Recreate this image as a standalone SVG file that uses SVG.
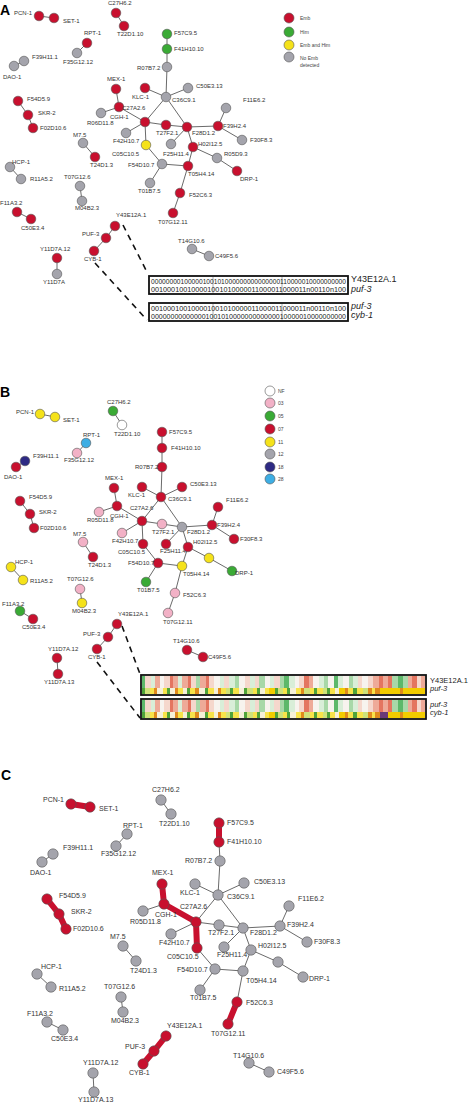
<svg xmlns="http://www.w3.org/2000/svg" xmlns:xlink="http://www.w3.org/1999/xlink" width="474" height="1102" viewBox="0 0 474 1102">
<style>
text{font-family:"Liberation Sans",Arial,sans-serif;font-size:6px;fill:#333}
.C text{font-size:7px}
circle{stroke:#555;stroke-width:.6}
.r{fill:#c8102e}.g{fill:#3aaa35}.y{fill:#f5e21a}.k{fill:#a4a4ac}.p{fill:#f2b1c6}.v{fill:#2e2a84}.b{fill:#3eaee4}.w{fill:#fff}
.e{fill:none;stroke:#444;stroke-width:.8}
.th{fill:none;stroke:#c8102e;stroke-width:6;stroke-linecap:round;stroke-linejoin:round}
.d{fill:none;stroke:#111;stroke-width:1.6;stroke-dasharray:6 5}
.bx{fill:none;stroke:#111;stroke-width:1.8}
.vl{stroke:#777;stroke-width:.6}
.lg text{font-size:5px;fill:#444}
text.pl{font-weight:bold;font-size:14px;fill:#000}
text.hl{font-size:9px;fill:#222}
text.hb{font-size:7.5px;fill:#222}
.it{font-style:italic}
text.bt{font-size:6.5px;fill:#222}
</style>
<defs>
<g id="u1">
<rect x="142" y="676" width="3" height="12" fill="#5db86a"/><rect x="145" y="676" width="6" height="12" fill="#f5d7cc"/><rect x="151" y="676" width="4" height="12" fill="#d9eed8"/><rect x="155" y="676" width="5" height="12" fill="#eeaa98"/><rect x="160" y="676" width="4" height="12" fill="#f7f3ee"/><rect x="164" y="676" width="6" height="12" fill="#f5d7cc"/><rect x="170" y="676" width="3" height="12" fill="#e47560"/><rect x="173" y="676" width="5" height="12" fill="#eeaa98"/><rect x="178" y="676" width="4" height="12" fill="#d9eed8"/><rect x="182" y="676" width="6" height="12" fill="#eeaa98"/><rect x="188" y="676" width="3" height="12" fill="#e47560"/><rect x="191" y="676" width="5" height="12" fill="#f5d7cc"/><rect x="196" y="676" width="4" height="12" fill="#a8d8a8"/><rect x="200" y="676" width="6" height="12" fill="#eeaa98"/><rect x="206" y="676" width="3" height="12" fill="#e47560"/><rect x="209" y="676" width="5" height="12" fill="#f5d7cc"/><rect x="214" y="676" width="6" height="12" fill="#f7f3ee"/><rect x="220" y="676" width="4" height="12" fill="#d9eed8"/><rect x="224" y="676" width="5" height="12" fill="#f5d7cc"/><rect x="229" y="676" width="6" height="12" fill="#d9eed8"/><rect x="235" y="676" width="4" height="12" fill="#a8d8a8"/><rect x="239" y="676" width="6" height="12" fill="#f7f3ee"/><rect x="245" y="676" width="5" height="12" fill="#f5d7cc"/><rect x="250" y="676" width="5" height="12" fill="#d9eed8"/><rect x="255" y="676" width="4" height="12" fill="#f5d7cc"/><rect x="259" y="676" width="6" height="12" fill="#a8d8a8"/><rect x="265" y="676" width="5" height="12" fill="#f7f3ee"/><rect x="270" y="676" width="4" height="12" fill="#d9eed8"/><rect x="274" y="676" width="6" height="12" fill="#f5d7cc"/><rect x="280" y="676" width="4" height="12" fill="#a8d8a8"/><rect x="284" y="676" width="5" height="12" fill="#5db86a"/><rect x="289" y="676" width="6" height="12" fill="#d9eed8"/><rect x="295" y="676" width="4" height="12" fill="#f7f3ee"/><rect x="299" y="676" width="5" height="12" fill="#f5d7cc"/><rect x="304" y="676" width="5" height="12" fill="#e47560"/><rect x="309" y="676" width="4" height="12" fill="#eeaa98"/><rect x="313" y="676" width="6" height="12" fill="#f7f3ee"/><rect x="319" y="676" width="5" height="12" fill="#d9eed8"/><rect x="324" y="676" width="4" height="12" fill="#a8d8a8"/><rect x="328" y="676" width="6" height="12" fill="#f7f3ee"/><rect x="334" y="676" width="4" height="12" fill="#5db86a"/><rect x="338" y="676" width="5" height="12" fill="#d9eed8"/><rect x="343" y="676" width="6" height="12" fill="#f7f3ee"/><rect x="349" y="676" width="4" height="12" fill="#a8d8a8"/><rect x="353" y="676" width="5" height="12" fill="#d9eed8"/><rect x="358" y="676" width="4" height="12" fill="#f5d7cc"/><rect x="362" y="676" width="6" height="12" fill="#f7f3ee"/><rect x="368" y="676" width="5" height="12" fill="#f5d7cc"/><rect x="373" y="676" width="6" height="12" fill="#eeaa98"/><rect x="379" y="676" width="4" height="12" fill="#e47560"/><rect x="383" y="676" width="5" height="12" fill="#eeaa98"/><rect x="388" y="676" width="4" height="12" fill="#e47560"/><rect x="392" y="676" width="6" height="12" fill="#a8d8a8"/><rect x="398" y="676" width="5" height="12" fill="#5db86a"/><rect x="403" y="676" width="5" height="12" fill="#a8d8a8"/><rect x="408" y="676" width="4" height="12" fill="#eeaa98"/><rect x="412" y="676" width="5" height="12" fill="#e47560"/><rect x="417" y="676" width="4" height="12" fill="#f5d7cc"/><rect x="421" y="676" width="4" height="12" fill="#eeaa98"/>
</g>
<g id="l1">
<rect x="142" y="688" width="3" height="6" fill="#4fa33a"/><rect x="145" y="688" width="5" height="6" fill="#cfe27a"/><rect x="150" y="688" width="4" height="6" fill="#f7e34a"/><rect x="154" y="688" width="3" height="6" fill="#e08a1c"/><rect x="157" y="688" width="6" height="6" fill="#f5f0d8"/><rect x="163" y="688" width="4" height="6" fill="#f7e34a"/><rect x="167" y="688" width="3" height="6" fill="#4fa33a"/><rect x="170" y="688" width="5" height="6" fill="#f5f0d8"/><rect x="175" y="688" width="3" height="6" fill="#e08a1c"/><rect x="178" y="688" width="5" height="6" fill="#f7e34a"/><rect x="183" y="688" width="4" height="6" fill="#f5f0d8"/><rect x="187" y="688" width="3" height="6" fill="#4fa33a"/><rect x="190" y="688" width="5" height="6" fill="#f7e34a"/><rect x="195" y="688" width="4" height="6" fill="#e08a1c"/><rect x="199" y="688" width="6" height="6" fill="#f5f0d8"/><rect x="205" y="688" width="3" height="6" fill="#4fa33a"/><rect x="208" y="688" width="6" height="6" fill="#f7e34a"/><rect x="214" y="688" width="4" height="6" fill="#f5f0d8"/><rect x="218" y="688" width="3" height="6" fill="#e08a1c"/><rect x="221" y="688" width="5" height="6" fill="#f7e34a"/><rect x="226" y="688" width="4" height="6" fill="#cfe27a"/><rect x="230" y="688" width="3" height="6" fill="#4fa33a"/><rect x="233" y="688" width="6" height="6" fill="#f7e34a"/><rect x="239" y="688" width="5" height="6" fill="#f5f0d8"/><rect x="244" y="688" width="3" height="6" fill="#4fa33a"/><rect x="247" y="688" width="6" height="6" fill="#cfe27a"/><rect x="253" y="688" width="4" height="6" fill="#f7e34a"/><rect x="257" y="688" width="3" height="6" fill="#4fa33a"/><rect x="260" y="688" width="5" height="6" fill="#f5f0d8"/><rect x="265" y="688" width="4" height="6" fill="#f7e34a"/><rect x="269" y="688" width="6" height="6" fill="#f2cc00"/><rect x="275" y="688" width="3" height="6" fill="#4fa33a"/><rect x="278" y="688" width="5" height="6" fill="#cfe27a"/><rect x="283" y="688" width="4" height="6" fill="#f7e34a"/><rect x="287" y="688" width="3" height="6" fill="#4fa33a"/><rect x="290" y="688" width="6" height="6" fill="#f5f0d8"/><rect x="296" y="688" width="5" height="6" fill="#f7e34a"/><rect x="301" y="688" width="3" height="6" fill="#e08a1c"/><rect x="304" y="688" width="6" height="6" fill="#cfe27a"/><rect x="310" y="688" width="4" height="6" fill="#f7e34a"/><rect x="314" y="688" width="3" height="6" fill="#4fa33a"/><rect x="317" y="688" width="6" height="6" fill="#f7e34a"/><rect x="323" y="688" width="4" height="6" fill="#cfe27a"/><rect x="327" y="688" width="3" height="6" fill="#4fa33a"/><rect x="330" y="688" width="5" height="6" fill="#f7e34a"/><rect x="335" y="688" width="4" height="6" fill="#f5f0d8"/><rect x="339" y="688" width="6" height="6" fill="#f2cc00"/><rect x="345" y="688" width="3" height="6" fill="#e08a1c"/><rect x="348" y="688" width="5" height="6" fill="#f7e34a"/><rect x="353" y="688" width="4" height="6" fill="#4fa33a"/><rect x="357" y="688" width="6" height="6" fill="#f7e34a"/><rect x="363" y="688" width="5" height="6" fill="#cfe27a"/><rect x="368" y="688" width="4" height="6" fill="#e08a1c"/><rect x="372" y="688" width="3" height="6" fill="#f7e34a"/><rect x="375" y="688" width="5" height="6" fill="#e08a1c"/><rect x="380" y="688" width="20" height="6" fill="#f2cc00"/><rect x="400" y="688" width="3" height="6" fill="#e08a1c"/><rect x="403" y="688" width="22" height="6" fill="#f2cc00"/>
</g>
</defs>

<g id="connectors">
<path class="e" d="M39 16L54 18M116 13L124 26M87 43L77 53M24 61L14 66M167 34L167 49L167 67L166 97M166 97L188 88M166 97L145 88M166 97L145 122M166 97L187 127M116 89L119 107M119 107L101 113M119 107L145 122M145 122L166 125L187 127M145 122L126 133M145 122L146 145L162 164L188 166M162 164L150 183M187 127L171 144M187 127L193 147L188 166M193 147L217 158L237 171M187 127L218 126M218 126L226 108M218 126L242 140M188 166L180 193L173 213M83 143L95 157M18 101L28 115L33 128M10 167L21 179M80 186L82 201M17 212L31 219M115 226L106 238L94 251M57 258L57 274M192 249L209 256"/>
<path class="e" d="M40 414L55 417M113 411L122 425M86 443L77 453M25 461L16 467M162 432L162 448L162 467L161 497M161 497L182 487M161 497L142 487M161 497L142 521M161 497L182 527M114 488L117 506M117 506L99 512M117 506L142 521M142 521L162 524L182 527M142 521L122 533M142 521L143 544L158 563L182 566M158 563L146 582M182 527L166 544M182 527L188 547L182 566M188 547L209 558L232 571M182 527L212 525M212 525L218 507M212 525L234 539M182 566L175 593L168 613M83 542L93 557M20 501L30 514L34 528M11 567L23 580M80 589L82 603M20 611L33 619M117 624L108 637L97 649M57 658L58 674M187 650L203 657"/>
<path class="e" d="M161 800L171 814M127 834L116 846M53 854L42 862M219 842L220 861L218 895M218 895L195 884M218 895L244 883M218 895L196 922M218 895L243 928M164 904L143 911M196 922L219 925L243 928M196 922L171 934M197 948L215 969M215 969L200 990M215 969L243 971M243 928L224 947M243 928L251 950L243 971M251 950L278 962L303 977M243 928L280 926M280 926L289 906M280 926L307 942M243 971L237 1002M123 946L136 961M37 974L51 987M121 997L123 1012M47 1022L63 1030M93 1073L94 1092M249 1063L269 1072"/>
<path class="th" d="M71 804L90 807M219 823L219 842M47 899L59 914L66 929M162 884L164 904L196 922L197 948M237 1002L228 1024M166 1036L154 1051L143 1064"/>
<path class="d" d="M123 225L148 274M95 263L147 320M122 626L140 674M97 662L140 718"/>
</g>

<text class="pl" x="0" y="15">A</text>
<text class="pl" x="0" y="397">B</text>
<text class="pl" x="1" y="780">C</text>

<g id="legend-a" class="lg">
<circle class="r" cx="289" cy="18" r="5"/><text x="300" y="20">Emb</text>
<circle class="g" cx="289" cy="32" r="5"/><text x="300" y="34">Him</text>
<circle class="y" cx="289" cy="45" r="5"/><text x="300" y="47">Emb and Him</text>
<circle class="k" cx="289" cy="57" r="5"/><text x="300" y="60">No Emb</text><text x="300" y="67">detected</text>
</g>

<g id="panel-a">
<g id="a-pcn-1"><circle class="r" cx="39" cy="16" r="4.8"/><text x="14" y="15">PCN-1</text></g>
<g id="a-set-1"><circle class="r" cx="54" cy="18" r="4.8"/><text x="63" y="23">SET-1</text></g>
<g id="a-c27h6-2"><circle class="r" cx="116" cy="13" r="4.8"/><text x="108" y="5">C27H6.2</text></g>
<g id="a-t22d1-10"><circle class="r" cx="124" cy="26" r="4.8"/><text x="117" y="36">T22D1.10</text></g>
<g id="a-rpt-1"><circle class="r" cx="87" cy="43" r="4.8"/><text x="84" y="35">RPT-1</text></g>
<g id="a-f35g12-12"><circle class="k" cx="77" cy="53" r="4.8"/><text x="63" y="64">F35G12.12</text></g>
<g id="a-f39h11-1"><circle class="k" cx="24" cy="61" r="4.8"/><text x="32" y="59">F39H11.1</text></g>
<g id="a-dao-1"><circle class="k" cx="14" cy="66" r="4.8"/><text x="3" y="79">DAO-1</text></g>
<g id="a-f57c9-5"><circle class="g" cx="167" cy="34" r="4.8"/><text x="174" y="35">F57C9.5</text></g>
<g id="a-f41h10-10"><circle class="g" cx="167" cy="49" r="4.8"/><text x="174" y="51">F41H10.10</text></g>
<g id="a-r07b7-2"><circle class="k" cx="167" cy="67" r="4.8"/><text x="137" y="70">R07B7.2</text></g>
<g id="a-c36c9-1"><circle class="k" cx="166" cy="97" r="4.8"/><text x="172" y="102">C36C9.1</text></g>
<g id="a-c50e3-13"><circle class="k" cx="188" cy="88" r="4.8"/><text x="196" y="88">C50E3.13</text></g>
<g id="a-klc-1"><circle class="r" cx="145" cy="88" r="4.8"/><text x="132" y="99">KLC-1</text></g>
<g id="a-mex-1"><circle class="r" cx="116" cy="89" r="4.8"/><text x="107" y="81">MEX-1</text></g>
<g id="a-cgh-1"><circle class="r" cx="119" cy="107" r="4.8"/><text x="110" y="119">CGH-1</text></g>
<g id="a-r06d11-8"><circle class="k" cx="101" cy="113" r="4.8"/><text x="87" y="125">R06D11.8</text></g>
<g id="a-c27a2-6"><circle class="r" cx="145" cy="122" r="4.8"/><text x="122" y="110">C27A2.6</text></g>
<g id="a-t27f2-1"><circle class="r" cx="166" cy="125" r="4.8"/><text x="156" y="135">T27F2.1</text></g>
<g id="a-f28d1-2"><circle class="r" cx="187" cy="127" r="4.8"/><text x="192" y="135">F28D1.2</text></g>
<g id="a-f39h2-4"><circle class="r" cx="218" cy="126" r="4.8"/><text x="223" y="128">F39H2.4</text></g>
<g id="a-f11e6-2"><circle class="k" cx="226" cy="108" r="4.8"/><text x="243" y="102">F11E6.2</text></g>
<g id="a-f30f8-3"><circle class="k" cx="242" cy="140" r="4.8"/><text x="250" y="142">F30F8.3</text></g>
<g id="a-h02i12-5"><circle class="r" cx="193" cy="147" r="4.8"/><text x="198" y="146">H02I12.5</text></g>
<g id="a-r05d9-3"><circle class="k" cx="217" cy="158" r="4.8"/><text x="224" y="156">R05D9.3</text></g>
<g id="a-drp-1"><circle class="r" cx="237" cy="171" r="4.8"/><text x="240" y="181">DRP-1</text></g>
<g id="a-f25h11-4"><circle class="k" cx="171" cy="144" r="4.8"/><text x="163" y="156">F25H11.4</text></g>
<g id="a-f42h10-7"><circle class="k" cx="126" cy="133" r="4.8"/><text x="113" y="143">F42H10.7</text></g>
<g id="a-c05c10-5"><circle class="y" cx="146" cy="145" r="4.8"/><text x="112" y="156">C05C10.5</text></g>
<g id="a-f54d10-7"><circle class="k" cx="162" cy="164" r="4.8"/><text x="128" y="167">F54D10.7</text></g>
<g id="a-t05h4-14"><circle class="r" cx="188" cy="166" r="4.8"/><text x="188" y="176">T05H4.14</text></g>
<g id="a-t01b7-5"><circle class="k" cx="150" cy="183" r="4.8"/><text x="138" y="193">T01B7.5</text></g>
<g id="a-f52c6-3"><circle class="r" cx="180" cy="193" r="4.8"/><text x="189" y="197">F52C6.3</text></g>
<g id="a-t07g12-11"><circle class="r" cx="173" cy="213" r="4.8"/><text x="158" y="224">T07G12.11</text></g>
<g id="a-m7-5"><circle class="k" cx="83" cy="143" r="4.8"/><text x="73" y="137">M7.5</text></g>
<g id="a-t24d1-3"><circle class="r" cx="95" cy="157" r="4.8"/><text x="90" y="167">T24D1.3</text></g>
<g id="a-f54d5-9"><circle class="r" cx="18" cy="101" r="4.8"/><text x="27" y="101">F54D5.9</text></g>
<g id="a-skr-2"><circle class="r" cx="28" cy="115" r="4.8"/><text x="38" y="115">SKR-2</text></g>
<g id="a-f02d10-6"><circle class="r" cx="33" cy="128" r="4.8"/><text x="40" y="130">F02D10.6</text></g>
<g id="a-hcp-1"><circle class="k" cx="10" cy="167" r="4.8"/><text x="12" y="164">HCP-1</text></g>
<g id="a-r11a5-2"><circle class="k" cx="21" cy="179" r="4.8"/><text x="30" y="181">R11A5.2</text></g>
<g id="a-t07g12-6"><circle class="k" cx="80" cy="186" r="4.8"/><text x="64" y="179">T07G12.6</text></g>
<g id="a-m04b2-3"><circle class="k" cx="82" cy="201" r="4.8"/><text x="75" y="210">M04B2.3</text></g>
<g id="a-f11a3-2"><circle class="r" cx="17" cy="212" r="4.8"/><text x="0" y="205">F11A3.2</text></g>
<g id="a-c50e3-4"><circle class="r" cx="31" cy="219" r="4.8"/><text x="21" y="230">C50E3.4</text></g>
<g id="a-y43e12a-1"><circle class="r" cx="115" cy="226" r="4.8"/><text x="116" y="217">Y43E12A.1</text></g>
<g id="a-puf-3"><circle class="r" cx="106" cy="238" r="4.8"/><text x="82" y="236">PUF-3</text></g>
<g id="a-cyb-1"><circle class="r" cx="94" cy="251" r="4.8"/><text x="84" y="261">CYB-1</text></g>
<g id="a-y11d7a-12"><circle class="r" cx="57" cy="258" r="4.8"/><text x="40" y="251">Y11D7A.12</text></g>
<g id="a-y11d7a-13"><circle class="k" cx="57" cy="274" r="4.8"/><text x="43" y="284">Y11D7A</text></g>
<g id="a-t14g10-6"><circle class="k" cx="192" cy="249" r="4.8"/><text x="178" y="243">T14G10.6</text></g>
<g id="a-c49f5-6"><circle class="k" cx="209" cy="256" r="4.8"/><text x="215" y="258">C49F5.6</text></g>
</g>

<g id="panel-a-alignment">
<rect class="bx" x="149" y="276" width="199" height="18"/>
<line class="vl" x1="213" y1="277" x2="213" y2="293"/><line class="vl" x1="282" y1="277" x2="282" y2="293"/>
<text class="bt" x="151" y="284" textLength="195" lengthAdjust="spacingAndGlyphs">00000000100000100101000000000000000110000010000000000</text>
<text class="bt" x="151" y="292" textLength="195" lengthAdjust="spacingAndGlyphs">001000100100001001010000011000011000011n00110n100</text>
<rect class="bx" x="149" y="303" width="199" height="18"/>
<line class="vl" x1="213" y1="304" x2="213" y2="320"/><line class="vl" x1="282" y1="304" x2="282" y2="320"/>
<text class="bt" x="151" y="311" textLength="195" lengthAdjust="spacingAndGlyphs">001000100100001001010000011000011000011n00110n100</text>
<text class="bt" x="151" y="319" textLength="195" lengthAdjust="spacingAndGlyphs">00000000000000100101000000000000010000010000000000</text>
<text class="hl" x="351" y="282">Y43E12A.1</text>
<text class="hl it" x="351" y="292">puf-3</text>
<text class="hl it" x="351" y="309">puf-3</text>
<text class="hl it" x="351" y="318">cyb-1</text>
</g>

<g id="legend-b" class="lg">
<circle class="w" cx="270" cy="391" r="5"/><text x="278" y="393">NF</text>
<circle class="p" cx="270" cy="403" r="5"/><text x="278" y="405">03</text>
<circle class="g" cx="270" cy="416" r="5"/><text x="278" y="418">05</text>
<circle class="r" cx="270" cy="429" r="5"/><text x="278" y="431">07</text>
<circle class="y" cx="270" cy="442" r="5"/><text x="278" y="444">11</text>
<circle class="k" cx="270" cy="454" r="5"/><text x="278" y="456">12</text>
<circle class="v" cx="270" cy="467" r="5"/><text x="278" y="469">18</text>
<circle class="b" cx="270" cy="479" r="5"/><text x="278" y="481">28</text>
</g>

<g id="panel-b">
<g id="b-pcn-1"><circle class="y" cx="40" cy="414" r="4.8"/><text x="16" y="414">PCN-1</text></g>
<g id="b-set-1"><circle class="y" cx="55" cy="417" r="4.8"/><text x="63" y="422">SET-1</text></g>
<g id="b-c27h6-2"><circle class="g" cx="113" cy="411" r="4.8"/><text x="107" y="404">C27H6.2</text></g>
<g id="b-t22d1-10"><circle class="w" cx="122" cy="425" r="4.8"/><text x="114" y="436">T22D1.10</text></g>
<g id="b-rpt-1"><circle class="b" cx="86" cy="443" r="4.8"/><text x="83" y="437">RPT-1</text></g>
<g id="b-f35g12-12"><circle class="p" cx="77" cy="453" r="4.8"/><text x="64" y="462">F35G12.12</text></g>
<g id="b-f39h11-1"><circle class="v" cx="25" cy="461" r="4.8"/><text x="33" y="458">F39H11.1</text></g>
<g id="b-dao-1"><circle class="r" cx="16" cy="467" r="4.8"/><text x="4" y="479">DAO-1</text></g>
<g id="b-f57c9-5"><circle class="r" cx="162" cy="432" r="4.8"/><text x="169" y="434">F57C9.5</text></g>
<g id="b-f41h10-10"><circle class="r" cx="162" cy="448" r="4.8"/><text x="171" y="450">F41H10.10</text></g>
<g id="b-r07b7-2"><circle class="r" cx="162" cy="467" r="4.8"/><text x="135" y="469">R07B7.2</text></g>
<g id="b-c36c9-1"><circle class="r" cx="161" cy="497" r="4.8"/><text x="168" y="501">C36C9.1</text></g>
<g id="b-c50e3-13"><circle class="r" cx="182" cy="487" r="4.8"/><text x="190" y="486">C50E3.13</text></g>
<g id="b-klc-1"><circle class="r" cx="142" cy="487" r="4.8"/><text x="128" y="497">KLC-1</text></g>
<g id="b-mex-1"><circle class="r" cx="114" cy="488" r="4.8"/><text x="105" y="480">MEX-1</text></g>
<g id="b-cgh-1"><circle class="r" cx="117" cy="506" r="4.8"/><text x="110" y="518">CGH-1</text></g>
<g id="b-r05d11-8"><circle class="p" cx="99" cy="512" r="4.8"/><text x="87" y="522">R05D11.8</text></g>
<g id="b-c27a2-6"><circle class="r" cx="142" cy="521" r="4.8"/><text x="130" y="510">C27A2.6</text></g>
<g id="b-t27f2-1"><circle class="p" cx="162" cy="524" r="4.8"/><text x="152" y="534">T27F2.1</text></g>
<g id="b-f28d1-2"><circle class="k" cx="182" cy="527" r="4.8"/><text x="187" y="534">F28D1.2</text></g>
<g id="b-f39h2-4"><circle class="r" cx="212" cy="525" r="4.8"/><text x="217" y="527">F39H2.4</text></g>
<g id="b-f11e6-2"><circle class="r" cx="218" cy="507" r="4.8"/><text x="226" y="502">F11E6.2</text></g>
<g id="b-f30f8-3"><circle class="r" cx="234" cy="539" r="4.8"/><text x="240" y="541">F30F8.3</text></g>
<g id="b-f42h10-7"><circle class="p" cx="122" cy="533" r="4.8"/><text x="112" y="543">F42H10.7</text></g>
<g id="b-c05c10-5"><circle class="r" cx="143" cy="544" r="4.8"/><text x="118" y="554">C05C10.5</text></g>
<g id="b-f25h11-4"><circle class="r" cx="166" cy="544" r="4.8"/><text x="160" y="553">F25H11.4</text></g>
<g id="b-h02i12-5"><circle class="r" cx="188" cy="547" r="4.8"/><text x="193" y="544">H02I12.5</text></g>
<g id="b-r05d9-3"><circle class="y" cx="209" cy="558" r="4.8"/></g>
<g id="b-drp-1"><circle class="g" cx="232" cy="571" r="4.8"/><text x="235" y="575">DRP-1</text></g>
<g id="b-f54d10-7"><circle class="r" cx="158" cy="563" r="4.8"/><text x="128" y="565">F54D10.7</text></g>
<g id="b-t05h4-14"><circle class="y" cx="182" cy="566" r="4.8"/><text x="183" y="576">T05H4.14</text></g>
<g id="b-t01b7-5"><circle class="g" cx="146" cy="582" r="4.8"/><text x="137" y="592">T01B7.5</text></g>
<g id="b-f52c6-3"><circle class="p" cx="175" cy="593" r="4.8"/><text x="183" y="597">F52C6.3</text></g>
<g id="b-t07g12-11"><circle class="p" cx="168" cy="613" r="4.8"/><text x="163" y="624">T07G12.11</text></g>
<g id="b-m7-5"><circle class="p" cx="83" cy="542" r="4.8"/><text x="73" y="536">M7.5</text></g>
<g id="b-t24d1-3"><circle class="r" cx="93" cy="557" r="4.8"/><text x="88" y="567">T24D1.3</text></g>
<g id="b-f54d5-9"><circle class="r" cx="20" cy="501" r="4.8"/><text x="29" y="499">F54D5.9</text></g>
<g id="b-skr-2"><circle class="r" cx="30" cy="514" r="4.8"/><text x="39" y="514">SKR-2</text></g>
<g id="b-f02d10-6"><circle class="r" cx="34" cy="528" r="4.8"/><text x="40" y="530">F02D10.6</text></g>
<g id="b-hcp-1"><circle class="y" cx="11" cy="567" r="4.8"/><text x="15" y="564">HCP-1</text></g>
<g id="b-r11a5-2"><circle class="y" cx="23" cy="580" r="4.8"/><text x="30" y="583">R11A5.2</text></g>
<g id="b-t07g12-6"><circle class="p" cx="80" cy="589" r="4.8"/><text x="67" y="581">T07G12.6</text></g>
<g id="b-m04b2-3"><circle class="y" cx="82" cy="603" r="4.8"/><text x="72" y="613">M04B2.3</text></g>
<g id="b-f11a3-2"><circle class="g" cx="20" cy="611" r="4.8"/><text x="2" y="606">F11A3.2</text></g>
<g id="b-c50e3-4"><circle class="r" cx="33" cy="619" r="4.8"/><text x="22" y="629">C50E3.4</text></g>
<g id="b-y43e12a-1"><circle class="r" cx="117" cy="624" r="4.8"/><text x="118" y="616">Y43E12A.1</text></g>
<g id="b-puf-3"><circle class="r" cx="108" cy="637" r="4.8"/><text x="83" y="636">PUF-3</text></g>
<g id="b-cyb-1"><circle class="r" cx="97" cy="649" r="4.8"/><text x="88" y="659">CYB-1</text></g>
<g id="b-y11d7a-12"><circle class="r" cx="57" cy="658" r="4.8"/><text x="48" y="651">Y11D7A.12</text></g>
<g id="b-y11d7a-13"><circle class="r" cx="58" cy="674" r="4.8"/><text x="44" y="684">Y11D7A.13</text></g>
<g id="b-t14g10-6"><circle class="r" cx="187" cy="650" r="4.8"/><text x="173" y="643">T14G10.6</text></g>
<g id="b-c49f5-6"><circle class="r" cx="203" cy="657" r="4.8"/><text x="208" y="659">C49F5.6</text></g>
</g>

<g id="panel-b-heatmap">
<use href="#u1"/><use href="#l1"/>
<use href="#u1" y="24"/><use href="#l1" y="24"/>
<rect x="380" y="712" width="8" height="6" fill="#6a3a78"/>
<rect class="bx" x="141" y="675" width="285" height="20"/>
<rect class="bx" x="141" y="699" width="285" height="20"/>
<text class="hb" x="430" y="683">Y43E12A.1</text>
<text class="hb it" x="430" y="691">puf-3</text>
<text class="hb it" x="430" y="707">puf-3</text>
<text class="hb it" x="430" y="715">cyb-1</text>
</g>

<g id="panel-c" class="C">
<g id="c-pcn-1"><circle class="r" cx="71" cy="804" r="5.2"/><text x="43" y="802">PCN-1</text></g>
<g id="c-set-1"><circle class="r" cx="90" cy="807" r="5.2"/><text x="99" y="811">SET-1</text></g>
<g id="c-c27h6-2"><circle class="k" cx="161" cy="800" r="5.2"/><text x="152" y="792">C27H6.2</text></g>
<g id="c-t22d1-10"><circle class="k" cx="171" cy="814" r="5.2"/><text x="159" y="826">T22D1.10</text></g>
<g id="c-rpt-1"><circle class="k" cx="127" cy="834" r="5.2"/><text x="123" y="828">RPT-1</text></g>
<g id="c-f35g12-12"><circle class="k" cx="116" cy="846" r="5.2"/><text x="101" y="856">F35G12.12</text></g>
<g id="c-f39h11-1"><circle class="k" cx="53" cy="854" r="5.2"/><text x="63" y="850">F39H11.1</text></g>
<g id="c-dao-1"><circle class="k" cx="42" cy="862" r="5.2"/><text x="30" y="875">DAO-1</text></g>
<g id="c-f57c9-5"><circle class="r" cx="219" cy="823" r="5.2"/><text x="227" y="825">F57C9.5</text></g>
<g id="c-f41h10-10"><circle class="r" cx="219" cy="842" r="5.2"/><text x="227" y="844">F41H10.10</text></g>
<g id="c-r07b7-2"><circle class="k" cx="220" cy="861" r="5.2"/><text x="185" y="863">R07B7.2</text></g>
<g id="c-mex-1"><circle class="r" cx="162" cy="884" r="5.2"/><text x="152" y="875">MEX-1</text></g>
<g id="c-klc-1"><circle class="k" cx="195" cy="884" r="5.2"/><text x="180" y="895">KLC-1</text></g>
<g id="c-c36c9-1"><circle class="k" cx="218" cy="895" r="5.2"/><text x="227" y="899">C36C9.1</text></g>
<g id="c-c50e3-13"><circle class="k" cx="244" cy="883" r="5.2"/><text x="254" y="884">C50E3.13</text></g>
<g id="c-f54d5-9"><circle class="r" cx="47" cy="899" r="5.2"/><text x="59" y="898">F54D5.9</text></g>
<g id="c-skr-2"><circle class="r" cx="59" cy="914" r="5.2"/><text x="71" y="914">SKR-2</text></g>
<g id="c-f02d10-6"><circle class="r" cx="66" cy="929" r="5.2"/><text x="73" y="931">F02D10.6</text></g>
<g id="c-cgh-1"><circle class="r" cx="164" cy="904" r="5.2"/><text x="155" y="917">CGH-1</text></g>
<g id="c-r05d11-8"><circle class="k" cx="143" cy="911" r="5.2"/><text x="130" y="924">R05D11.8</text></g>
<g id="c-c27a2-6"><circle class="r" cx="196" cy="922" r="5.2"/><text x="180" y="909">C27A2.6</text></g>
<g id="c-t27f2-1"><circle class="k" cx="219" cy="925" r="5.2"/><text x="208" y="935">T27F2.1</text></g>
<g id="c-f42h10-7"><circle class="k" cx="171" cy="934" r="5.2"/><text x="159" y="945">F42H10.7</text></g>
<g id="c-c05c10-5"><circle class="r" cx="197" cy="948" r="5.2"/><text x="167" y="959">C05C10.5</text></g>
<g id="c-f25h11-4"><circle class="k" cx="224" cy="947" r="5.2"/><text x="217" y="957">F25H11.4</text></g>
<g id="c-f54d10-7"><circle class="k" cx="215" cy="969" r="5.2"/><text x="177" y="972">F54D10.7</text></g>
<g id="c-t01b7-5"><circle class="k" cx="200" cy="990" r="5.2"/><text x="190" y="1000">T01B7.5</text></g>
<g id="c-f52c6-3"><circle class="r" cx="237" cy="1002" r="5.2"/><text x="246" y="1005">F52C6.3</text></g>
<g id="c-t07g12-11"><circle class="r" cx="228" cy="1024" r="5.2"/><text x="211" y="1036">T07G12.11</text></g>
<g id="c-m7-5"><circle class="k" cx="123" cy="946" r="5.2"/><text x="110" y="939">M7.5</text></g>
<g id="c-t24d1-3"><circle class="k" cx="136" cy="961" r="5.2"/><text x="130" y="973">T24D1.3</text></g>
<g id="c-hcp-1"><circle class="k" cx="37" cy="974" r="5.2"/><text x="41" y="969">HCP-1</text></g>
<g id="c-r11a5-2"><circle class="k" cx="51" cy="987" r="5.2"/><text x="59" y="991">R11A5.2</text></g>
<g id="c-t07g12-6"><circle class="k" cx="121" cy="997" r="5.2"/><text x="104" y="989">T07G12.6</text></g>
<g id="c-m04b2-3"><circle class="k" cx="123" cy="1012" r="5.2"/><text x="111" y="1023">M04B2.3</text></g>
<g id="c-f11a3-2"><circle class="k" cx="47" cy="1022" r="5.2"/><text x="27" y="1016">F11A3.2</text></g>
<g id="c-c50e3-4"><circle class="k" cx="63" cy="1030" r="5.2"/><text x="51" y="1041">C50E3.4</text></g>
<g id="c-y43e12a-1"><circle class="r" cx="166" cy="1036" r="5.2"/><text x="167" y="1028">Y43E12A.1</text></g>
<g id="c-puf-3"><circle class="r" cx="154" cy="1051" r="5.2"/><text x="125" y="1049">PUF-3</text></g>
<g id="c-cyb-1"><circle class="r" cx="143" cy="1064" r="5.2"/><text x="129" y="1075">CYB-1</text></g>
<g id="c-y11d7a-12"><circle class="k" cx="93" cy="1073" r="5.2"/><text x="83" y="1065">Y11D7A.12</text></g>
<g id="c-y11d7a-13"><circle class="k" cx="94" cy="1092" r="5.2"/><text x="78" y="1102">Y11D7A.13</text></g>
<g id="c-t14g10-6"><circle class="k" cx="249" cy="1063" r="5.2"/><text x="233" y="1058">T14G10.6</text></g>
<g id="c-c49f5-6"><circle class="k" cx="269" cy="1072" r="5.2"/><text x="277" y="1074">C49F5.6</text></g>
<g id="c-f28d1-2"><circle class="k" cx="243" cy="928" r="5.2"/><text x="250" y="935">F28D1.2</text></g>
<g id="c-f39h2-4"><circle class="k" cx="280" cy="926" r="5.2"/><text x="287" y="927">F39H2.4</text></g>
<g id="c-f11e6-2"><circle class="k" cx="289" cy="906" r="5.2"/><text x="298" y="901">F11E6.2</text></g>
<g id="c-f30f8-3"><circle class="k" cx="307" cy="942" r="5.2"/><text x="314" y="944">F30F8.3</text></g>
<g id="c-h02i12-5"><circle class="k" cx="251" cy="950" r="5.2"/><text x="258" y="948">H02I12.5</text></g>
<g id="c-r05d9-3"><circle class="k" cx="278" cy="962" r="5.2"/></g>
<g id="c-drp-1"><circle class="k" cx="303" cy="977" r="5.2"/><text x="309" y="981">DRP-1</text></g>
<g id="c-t05h4-14"><circle class="k" cx="243" cy="971" r="5.2"/><text x="246" y="983">T05H4.14</text></g>
</g>
</svg>
